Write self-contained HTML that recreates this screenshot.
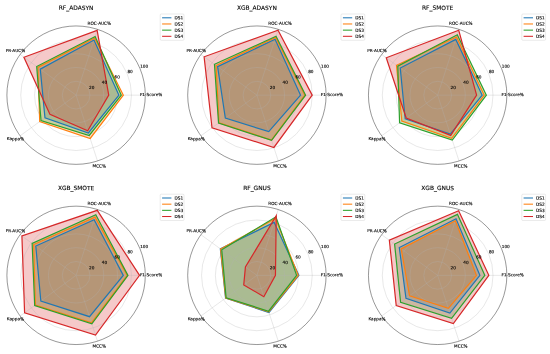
<!DOCTYPE html>
<html><head><meta charset="utf-8"><title>Radar charts</title>
<style>html,body{margin:0;padding:0;background:#fff}svg{display:block}text{font-family:"DejaVu Sans","Liberation Sans",sans-serif;text-rendering:geometricPrecision;stroke:#000;stroke-width:1.25px}</style></head>
<body>
<svg width="550" height="354" viewBox="0 0 550 354">
<rect width="550" height="354" fill="#fff"/>
<g>
<text transform="translate(76.10 9.85) rotate(0.4) scale(0.1)" font-size="59" text-anchor="middle" fill="#000" fill-opacity="1">RF_ADASYN</text>
<polygon points="118.93,95.15 94.00,40.06 40.27,69.12 44.97,117.77 88.40,132.99" fill="#1f77b4" fill-opacity="0.25" stroke="none"/>
<polygon points="123.36,95.15 94.66,38.02 37.92,67.41 39.71,121.59 90.17,138.46" fill="#ff7f0e" fill-opacity="0.25" stroke="none"/>
<polygon points="121.29,95.15 95.15,36.51 36.69,66.51 41.00,120.65 89.21,135.49" fill="#2ca02c" fill-opacity="0.25" stroke="none"/>
<polygon points="108.76,95.15 97.14,30.39 23.92,57.24 49.90,114.19 87.69,130.82" fill="#d62728" fill-opacity="0.25" stroke="none"/>
<circle cx="76.1" cy="95.15" r="13.84" fill="none" stroke="#b0b0b0" stroke-width="0.3"/>
<circle cx="76.1" cy="95.15" r="27.68" fill="none" stroke="#b0b0b0" stroke-width="0.3"/>
<circle cx="76.1" cy="95.15" r="41.52" fill="none" stroke="#b0b0b0" stroke-width="0.3"/>
<circle cx="76.1" cy="95.15" r="55.36" fill="none" stroke="#b0b0b0" stroke-width="0.3"/>
<line x1="76.1" y1="95.15" x2="145.30" y2="95.15" stroke="#b0b0b0" stroke-width="0.3"/>
<line x1="76.1" y1="95.15" x2="97.48" y2="29.34" stroke="#b0b0b0" stroke-width="0.3"/>
<line x1="76.1" y1="95.15" x2="20.12" y2="54.48" stroke="#b0b0b0" stroke-width="0.3"/>
<line x1="76.1" y1="95.15" x2="20.12" y2="135.82" stroke="#b0b0b0" stroke-width="0.3"/>
<line x1="76.1" y1="95.15" x2="97.48" y2="160.96" stroke="#b0b0b0" stroke-width="0.3"/>
<polygon points="118.93,95.15 94.00,40.06 40.27,69.12 44.97,117.77 88.40,132.99" fill="none" stroke="#1f77b4" stroke-width="1.2" stroke-linejoin="miter"/>
<polygon points="123.36,95.15 94.66,38.02 37.92,67.41 39.71,121.59 90.17,138.46" fill="none" stroke="#ff7f0e" stroke-width="1.2" stroke-linejoin="miter"/>
<polygon points="121.29,95.15 95.15,36.51 36.69,66.51 41.00,120.65 89.21,135.49" fill="none" stroke="#2ca02c" stroke-width="1.2" stroke-linejoin="miter"/>
<polygon points="108.76,95.15 97.14,30.39 23.92,57.24 49.90,114.19 87.69,130.82" fill="none" stroke="#d62728" stroke-width="1.2" stroke-linejoin="miter"/>
<circle cx="76.1" cy="95.15" r="69.2" fill="none" stroke="#000" stroke-opacity="0.9" stroke-width="0.45"/>
<text transform="translate(151.10 96.07) rotate(0.4) scale(0.1)" font-size="42" text-anchor="middle" fill="#000" fill-opacity="1">F1-Score%</text>
<text transform="translate(99.28 24.74) rotate(0.4) scale(0.1)" font-size="42" text-anchor="middle" fill="#000" fill-opacity="1">ROC-AUC%</text>
<text transform="translate(15.42 51.99) rotate(0.4) scale(0.1)" font-size="42" text-anchor="middle" fill="#000" fill-opacity="1">PR-AUC%</text>
<text transform="translate(15.42 140.16) rotate(0.4) scale(0.1)" font-size="42" text-anchor="middle" fill="#000" fill-opacity="1">Kappa%</text>
<text transform="translate(99.28 167.40) rotate(0.4) scale(0.1)" font-size="42" text-anchor="middle" fill="#000" fill-opacity="1">MCC%</text>
<text transform="translate(89.04 88.95) rotate(0.4) scale(0.1)" font-size="42" text-anchor="start" fill="#000" fill-opacity="1">20</text>
<text transform="translate(101.82 83.66) rotate(0.4) scale(0.1)" font-size="42" text-anchor="start" fill="#000" fill-opacity="1">40</text>
<text transform="translate(114.61 78.36) rotate(0.4) scale(0.1)" font-size="42" text-anchor="start" fill="#000" fill-opacity="1">60</text>
<text transform="translate(127.40 73.06) rotate(0.4) scale(0.1)" font-size="42" text-anchor="start" fill="#000" fill-opacity="1">80</text>
<text transform="translate(140.18 67.77) rotate(0.4) scale(0.1)" font-size="42" text-anchor="start" fill="#000" fill-opacity="1">100</text>
<rect x="160.2" y="14.0" width="23.8" height="26.3" rx="1" fill="#fff" fill-opacity="0.8" stroke="#ccc" stroke-opacity="0.8" stroke-width="0.5"/>
<line x1="162.1" y1="17.80" x2="171.4" y2="17.80" stroke="#1f77b4" stroke-width="1.05"/>
<text transform="translate(174.50 19.30) rotate(0.4) scale(0.1)" font-size="42" text-anchor="start" fill="#000" fill-opacity="1">DS1</text>
<line x1="162.1" y1="23.97" x2="171.4" y2="23.97" stroke="#ff7f0e" stroke-width="1.05"/>
<text transform="translate(174.50 25.47) rotate(0.4) scale(0.1)" font-size="42" text-anchor="start" fill="#000" fill-opacity="1">DS2</text>
<line x1="162.1" y1="30.14" x2="171.4" y2="30.14" stroke="#2ca02c" stroke-width="1.05"/>
<text transform="translate(174.50 31.64) rotate(0.4) scale(0.1)" font-size="42" text-anchor="start" fill="#000" fill-opacity="1">DS3</text>
<line x1="162.1" y1="36.31" x2="171.4" y2="36.31" stroke="#d62728" stroke-width="1.05"/>
<text transform="translate(174.50 37.81) rotate(0.4) scale(0.1)" font-size="42" text-anchor="start" fill="#000" fill-opacity="1">DS4</text>
</g>
<g>
<text transform="translate(256.90 9.85) rotate(0.4) scale(0.1)" font-size="59" text-anchor="middle" fill="#000" fill-opacity="1">XGB_ADASYN</text>
<polygon points="300.57,95.15 275.08,39.21 217.60,66.60 225.33,118.09 268.75,131.61" fill="#1f77b4" fill-opacity="0.25" stroke="none"/>
<polygon points="304.86,95.15 275.63,37.50 216.09,65.50 218.94,122.73 271.48,140.03" fill="#ff7f0e" fill-opacity="0.25" stroke="none"/>
<polygon points="305.62,95.15 276.04,36.25 214.46,64.32 218.55,123.01 271.59,140.36" fill="#2ca02c" fill-opacity="0.25" stroke="none"/>
<polygon points="312.19,95.15 278.03,30.13 204.11,56.79 212.00,127.77 273.90,147.47" fill="#d62728" fill-opacity="0.25" stroke="none"/>
<circle cx="256.9" cy="95.15" r="13.84" fill="none" stroke="#b0b0b0" stroke-width="0.3"/>
<circle cx="256.9" cy="95.15" r="27.68" fill="none" stroke="#b0b0b0" stroke-width="0.3"/>
<circle cx="256.9" cy="95.15" r="41.52" fill="none" stroke="#b0b0b0" stroke-width="0.3"/>
<circle cx="256.9" cy="95.15" r="55.36" fill="none" stroke="#b0b0b0" stroke-width="0.3"/>
<line x1="256.9" y1="95.15" x2="326.10" y2="95.15" stroke="#b0b0b0" stroke-width="0.3"/>
<line x1="256.9" y1="95.15" x2="278.28" y2="29.34" stroke="#b0b0b0" stroke-width="0.3"/>
<line x1="256.9" y1="95.15" x2="200.92" y2="54.48" stroke="#b0b0b0" stroke-width="0.3"/>
<line x1="256.9" y1="95.15" x2="200.92" y2="135.82" stroke="#b0b0b0" stroke-width="0.3"/>
<line x1="256.9" y1="95.15" x2="278.28" y2="160.96" stroke="#b0b0b0" stroke-width="0.3"/>
<polygon points="300.57,95.15 275.08,39.21 217.60,66.60 225.33,118.09 268.75,131.61" fill="none" stroke="#1f77b4" stroke-width="1.2" stroke-linejoin="miter"/>
<polygon points="304.86,95.15 275.63,37.50 216.09,65.50 218.94,122.73 271.48,140.03" fill="none" stroke="#ff7f0e" stroke-width="1.2" stroke-linejoin="miter"/>
<polygon points="305.62,95.15 276.04,36.25 214.46,64.32 218.55,123.01 271.59,140.36" fill="none" stroke="#2ca02c" stroke-width="1.2" stroke-linejoin="miter"/>
<polygon points="312.19,95.15 278.03,30.13 204.11,56.79 212.00,127.77 273.90,147.47" fill="none" stroke="#d62728" stroke-width="1.2" stroke-linejoin="miter"/>
<circle cx="256.9" cy="95.15" r="69.2" fill="none" stroke="#000" stroke-opacity="0.9" stroke-width="0.45"/>
<text transform="translate(331.90 96.07) rotate(0.4) scale(0.1)" font-size="42" text-anchor="middle" fill="#000" fill-opacity="1">F1-Score%</text>
<text transform="translate(280.08 24.74) rotate(0.4) scale(0.1)" font-size="42" text-anchor="middle" fill="#000" fill-opacity="1">ROC-AUC%</text>
<text transform="translate(196.22 51.99) rotate(0.4) scale(0.1)" font-size="42" text-anchor="middle" fill="#000" fill-opacity="1">PR-AUC%</text>
<text transform="translate(196.22 140.16) rotate(0.4) scale(0.1)" font-size="42" text-anchor="middle" fill="#000" fill-opacity="1">Kappa%</text>
<text transform="translate(280.08 167.40) rotate(0.4) scale(0.1)" font-size="42" text-anchor="middle" fill="#000" fill-opacity="1">MCC%</text>
<text transform="translate(269.84 88.95) rotate(0.4) scale(0.1)" font-size="42" text-anchor="start" fill="#000" fill-opacity="1">20</text>
<text transform="translate(282.62 83.66) rotate(0.4) scale(0.1)" font-size="42" text-anchor="start" fill="#000" fill-opacity="1">40</text>
<text transform="translate(295.41 78.36) rotate(0.4) scale(0.1)" font-size="42" text-anchor="start" fill="#000" fill-opacity="1">60</text>
<text transform="translate(308.20 73.06) rotate(0.4) scale(0.1)" font-size="42" text-anchor="start" fill="#000" fill-opacity="1">80</text>
<text transform="translate(320.98 67.77) rotate(0.4) scale(0.1)" font-size="42" text-anchor="start" fill="#000" fill-opacity="1">100</text>
<rect x="341.0" y="14.0" width="23.8" height="26.3" rx="1" fill="#fff" fill-opacity="0.8" stroke="#ccc" stroke-opacity="0.8" stroke-width="0.5"/>
<line x1="342.9" y1="17.80" x2="352.2" y2="17.80" stroke="#1f77b4" stroke-width="1.05"/>
<text transform="translate(355.30 19.30) rotate(0.4) scale(0.1)" font-size="42" text-anchor="start" fill="#000" fill-opacity="1">DS1</text>
<line x1="342.9" y1="23.97" x2="352.2" y2="23.97" stroke="#ff7f0e" stroke-width="1.05"/>
<text transform="translate(355.30 25.47) rotate(0.4) scale(0.1)" font-size="42" text-anchor="start" fill="#000" fill-opacity="1">DS2</text>
<line x1="342.9" y1="30.14" x2="352.2" y2="30.14" stroke="#2ca02c" stroke-width="1.05"/>
<text transform="translate(355.30 31.64) rotate(0.4) scale(0.1)" font-size="42" text-anchor="start" fill="#000" fill-opacity="1">DS3</text>
<line x1="342.9" y1="36.31" x2="352.2" y2="36.31" stroke="#d62728" stroke-width="1.05"/>
<text transform="translate(355.30 37.81) rotate(0.4) scale(0.1)" font-size="42" text-anchor="start" fill="#000" fill-opacity="1">DS4</text>
</g>
<g>
<text transform="translate(437.65 9.85) rotate(0.4) scale(0.1)" font-size="59" text-anchor="middle" fill="#000" fill-opacity="1">RF_SMOTE</text>
<polygon points="482.21,95.15 455.76,39.41 400.25,67.98 405.18,118.74 450.31,134.11" fill="#1f77b4" fill-opacity="0.25" stroke="none"/>
<polygon points="484.29,95.15 456.53,37.04 396.50,65.25 401.82,121.18 451.66,138.26" fill="#ff7f0e" fill-opacity="0.25" stroke="none"/>
<polygon points="486.37,95.15 457.28,34.73 397.79,66.19 399.58,122.81 452.28,140.17" fill="#2ca02c" fill-opacity="0.25" stroke="none"/>
<polygon points="476.61,95.15 458.73,30.26 386.26,57.81 406.19,118.01 450.74,135.43" fill="#d62728" fill-opacity="0.25" stroke="none"/>
<circle cx="437.65" cy="95.15" r="13.84" fill="none" stroke="#b0b0b0" stroke-width="0.3"/>
<circle cx="437.65" cy="95.15" r="27.68" fill="none" stroke="#b0b0b0" stroke-width="0.3"/>
<circle cx="437.65" cy="95.15" r="41.52" fill="none" stroke="#b0b0b0" stroke-width="0.3"/>
<circle cx="437.65" cy="95.15" r="55.36" fill="none" stroke="#b0b0b0" stroke-width="0.3"/>
<line x1="437.65" y1="95.15" x2="506.85" y2="95.15" stroke="#b0b0b0" stroke-width="0.3"/>
<line x1="437.65" y1="95.15" x2="459.03" y2="29.34" stroke="#b0b0b0" stroke-width="0.3"/>
<line x1="437.65" y1="95.15" x2="381.67" y2="54.48" stroke="#b0b0b0" stroke-width="0.3"/>
<line x1="437.65" y1="95.15" x2="381.67" y2="135.82" stroke="#b0b0b0" stroke-width="0.3"/>
<line x1="437.65" y1="95.15" x2="459.03" y2="160.96" stroke="#b0b0b0" stroke-width="0.3"/>
<polygon points="482.21,95.15 455.76,39.41 400.25,67.98 405.18,118.74 450.31,134.11" fill="none" stroke="#1f77b4" stroke-width="1.2" stroke-linejoin="miter"/>
<polygon points="484.29,95.15 456.53,37.04 396.50,65.25 401.82,121.18 451.66,138.26" fill="none" stroke="#ff7f0e" stroke-width="1.2" stroke-linejoin="miter"/>
<polygon points="486.37,95.15 457.28,34.73 397.79,66.19 399.58,122.81 452.28,140.17" fill="none" stroke="#2ca02c" stroke-width="1.2" stroke-linejoin="miter"/>
<polygon points="476.61,95.15 458.73,30.26 386.26,57.81 406.19,118.01 450.74,135.43" fill="none" stroke="#d62728" stroke-width="1.2" stroke-linejoin="miter"/>
<circle cx="437.65" cy="95.15" r="69.2" fill="none" stroke="#000" stroke-opacity="0.9" stroke-width="0.45"/>
<text transform="translate(512.65 96.07) rotate(0.4) scale(0.1)" font-size="42" text-anchor="middle" fill="#000" fill-opacity="1">F1-Score%</text>
<text transform="translate(460.83 24.74) rotate(0.4) scale(0.1)" font-size="42" text-anchor="middle" fill="#000" fill-opacity="1">ROC-AUC%</text>
<text transform="translate(376.97 51.99) rotate(0.4) scale(0.1)" font-size="42" text-anchor="middle" fill="#000" fill-opacity="1">PR-AUC%</text>
<text transform="translate(376.97 140.16) rotate(0.4) scale(0.1)" font-size="42" text-anchor="middle" fill="#000" fill-opacity="1">Kappa%</text>
<text transform="translate(460.83 167.40) rotate(0.4) scale(0.1)" font-size="42" text-anchor="middle" fill="#000" fill-opacity="1">MCC%</text>
<text transform="translate(450.59 88.95) rotate(0.4) scale(0.1)" font-size="42" text-anchor="start" fill="#000" fill-opacity="1">20</text>
<text transform="translate(463.37 83.66) rotate(0.4) scale(0.1)" font-size="42" text-anchor="start" fill="#000" fill-opacity="1">40</text>
<text transform="translate(476.16 78.36) rotate(0.4) scale(0.1)" font-size="42" text-anchor="start" fill="#000" fill-opacity="1">60</text>
<text transform="translate(488.95 73.06) rotate(0.4) scale(0.1)" font-size="42" text-anchor="start" fill="#000" fill-opacity="1">80</text>
<text transform="translate(501.73 67.77) rotate(0.4) scale(0.1)" font-size="42" text-anchor="start" fill="#000" fill-opacity="1">100</text>
<rect x="521.8" y="14.0" width="23.8" height="26.3" rx="1" fill="#fff" fill-opacity="0.8" stroke="#ccc" stroke-opacity="0.8" stroke-width="0.5"/>
<line x1="523.6" y1="17.80" x2="533.0" y2="17.80" stroke="#1f77b4" stroke-width="1.05"/>
<text transform="translate(536.05 19.30) rotate(0.4) scale(0.1)" font-size="42" text-anchor="start" fill="#000" fill-opacity="1">DS1</text>
<line x1="523.6" y1="23.97" x2="533.0" y2="23.97" stroke="#ff7f0e" stroke-width="1.05"/>
<text transform="translate(536.05 25.47) rotate(0.4) scale(0.1)" font-size="42" text-anchor="start" fill="#000" fill-opacity="1">DS2</text>
<line x1="523.6" y1="30.14" x2="533.0" y2="30.14" stroke="#2ca02c" stroke-width="1.05"/>
<text transform="translate(536.05 31.64) rotate(0.4) scale(0.1)" font-size="42" text-anchor="start" fill="#000" fill-opacity="1">DS3</text>
<line x1="523.6" y1="36.31" x2="533.0" y2="36.31" stroke="#d62728" stroke-width="1.05"/>
<text transform="translate(536.05 37.81) rotate(0.4) scale(0.1)" font-size="42" text-anchor="start" fill="#000" fill-opacity="1">DS4</text>
</g>
<g>
<text transform="translate(76.10 190.05) rotate(0.4) scale(0.1)" font-size="59" text-anchor="middle" fill="#000" fill-opacity="1">XGB_SMOTE</text>
<polygon points="123.29,275.35 94.15,219.80 35.79,246.06 40.83,300.98 89.53,316.68" fill="#1f77b4" fill-opacity="0.25" stroke="none"/>
<polygon points="127.24,275.35 95.02,217.11 33.66,244.52 35.34,304.96 91.54,322.87" fill="#ff7f0e" fill-opacity="0.25" stroke="none"/>
<polygon points="127.93,275.35 95.79,214.74 32.15,243.42 34.67,305.45 91.86,323.85" fill="#2ca02c" fill-opacity="0.25" stroke="none"/>
<polygon points="139.56,275.35 97.23,210.33 21.91,235.98 24.59,312.77 95.52,335.11" fill="#d62728" fill-opacity="0.25" stroke="none"/>
<circle cx="76.1" cy="275.35" r="13.84" fill="none" stroke="#b0b0b0" stroke-width="0.3"/>
<circle cx="76.1" cy="275.35" r="27.68" fill="none" stroke="#b0b0b0" stroke-width="0.3"/>
<circle cx="76.1" cy="275.35" r="41.52" fill="none" stroke="#b0b0b0" stroke-width="0.3"/>
<circle cx="76.1" cy="275.35" r="55.36" fill="none" stroke="#b0b0b0" stroke-width="0.3"/>
<line x1="76.1" y1="275.35" x2="145.30" y2="275.35" stroke="#b0b0b0" stroke-width="0.3"/>
<line x1="76.1" y1="275.35" x2="97.48" y2="209.54" stroke="#b0b0b0" stroke-width="0.3"/>
<line x1="76.1" y1="275.35" x2="20.12" y2="234.68" stroke="#b0b0b0" stroke-width="0.3"/>
<line x1="76.1" y1="275.35" x2="20.12" y2="316.02" stroke="#b0b0b0" stroke-width="0.3"/>
<line x1="76.1" y1="275.35" x2="97.48" y2="341.16" stroke="#b0b0b0" stroke-width="0.3"/>
<polygon points="123.29,275.35 94.15,219.80 35.79,246.06 40.83,300.98 89.53,316.68" fill="none" stroke="#1f77b4" stroke-width="1.2" stroke-linejoin="miter"/>
<polygon points="127.24,275.35 95.02,217.11 33.66,244.52 35.34,304.96 91.54,322.87" fill="none" stroke="#ff7f0e" stroke-width="1.2" stroke-linejoin="miter"/>
<polygon points="127.93,275.35 95.79,214.74 32.15,243.42 34.67,305.45 91.86,323.85" fill="none" stroke="#2ca02c" stroke-width="1.2" stroke-linejoin="miter"/>
<polygon points="139.56,275.35 97.23,210.33 21.91,235.98 24.59,312.77 95.52,335.11" fill="none" stroke="#d62728" stroke-width="1.2" stroke-linejoin="miter"/>
<circle cx="76.1" cy="275.35" r="69.2" fill="none" stroke="#000" stroke-opacity="0.9" stroke-width="0.45"/>
<text transform="translate(151.10 276.27) rotate(0.4) scale(0.1)" font-size="42" text-anchor="middle" fill="#000" fill-opacity="1">F1-Score%</text>
<text transform="translate(99.28 204.94) rotate(0.4) scale(0.1)" font-size="42" text-anchor="middle" fill="#000" fill-opacity="1">ROC-AUC%</text>
<text transform="translate(15.42 232.19) rotate(0.4) scale(0.1)" font-size="42" text-anchor="middle" fill="#000" fill-opacity="1">PR-AUC%</text>
<text transform="translate(15.42 320.36) rotate(0.4) scale(0.1)" font-size="42" text-anchor="middle" fill="#000" fill-opacity="1">Kappa%</text>
<text transform="translate(99.28 347.60) rotate(0.4) scale(0.1)" font-size="42" text-anchor="middle" fill="#000" fill-opacity="1">MCC%</text>
<text transform="translate(89.04 269.15) rotate(0.4) scale(0.1)" font-size="42" text-anchor="start" fill="#000" fill-opacity="1">20</text>
<text transform="translate(101.82 263.86) rotate(0.4) scale(0.1)" font-size="42" text-anchor="start" fill="#000" fill-opacity="1">40</text>
<text transform="translate(114.61 258.56) rotate(0.4) scale(0.1)" font-size="42" text-anchor="start" fill="#000" fill-opacity="1">60</text>
<text transform="translate(127.40 253.26) rotate(0.4) scale(0.1)" font-size="42" text-anchor="start" fill="#000" fill-opacity="1">80</text>
<text transform="translate(140.18 247.97) rotate(0.4) scale(0.1)" font-size="42" text-anchor="start" fill="#000" fill-opacity="1">100</text>
<rect x="160.2" y="194.2" width="23.8" height="26.3" rx="1" fill="#fff" fill-opacity="0.8" stroke="#ccc" stroke-opacity="0.8" stroke-width="0.5"/>
<line x1="162.1" y1="198.00" x2="171.4" y2="198.00" stroke="#1f77b4" stroke-width="1.05"/>
<text transform="translate(174.50 199.50) rotate(0.4) scale(0.1)" font-size="42" text-anchor="start" fill="#000" fill-opacity="1">DS1</text>
<line x1="162.1" y1="204.17" x2="171.4" y2="204.17" stroke="#ff7f0e" stroke-width="1.05"/>
<text transform="translate(174.50 205.67) rotate(0.4) scale(0.1)" font-size="42" text-anchor="start" fill="#000" fill-opacity="1">DS2</text>
<line x1="162.1" y1="210.34" x2="171.4" y2="210.34" stroke="#2ca02c" stroke-width="1.05"/>
<text transform="translate(174.50 211.84) rotate(0.4) scale(0.1)" font-size="42" text-anchor="start" fill="#000" fill-opacity="1">DS3</text>
<line x1="162.1" y1="216.51" x2="171.4" y2="216.51" stroke="#d62728" stroke-width="1.05"/>
<text transform="translate(174.50 218.01) rotate(0.4) scale(0.1)" font-size="42" text-anchor="start" fill="#000" fill-opacity="1">DS4</text>
</g>
<g>
<text transform="translate(256.90 190.05) rotate(0.4) scale(0.1)" font-size="59" text-anchor="middle" fill="#000" fill-opacity="1">RF_GNUS</text>
<polygon points="298.84,275.35 274.11,222.37 220.34,248.79 225.55,298.13 268.98,312.53" fill="#1f77b4" fill-opacity="0.25" stroke="none"/>
<polygon points="298.28,275.35 275.42,218.36 220.62,248.99 225.77,297.97 268.75,311.81" fill="#ff7f0e" fill-opacity="0.25" stroke="none"/>
<polygon points="296.62,275.35 275.93,216.78 221.74,249.81 226.11,297.72 268.55,311.22" fill="#2ca02c" fill-opacity="0.25" stroke="none"/>
<polygon points="275.45,275.35 276.25,215.79 245.42,267.01 243.74,284.91 263.83,296.67" fill="#d62728" fill-opacity="0.25" stroke="none"/>
<circle cx="256.9" cy="275.35" r="13.84" fill="none" stroke="#b0b0b0" stroke-width="0.3"/>
<circle cx="256.9" cy="275.35" r="27.68" fill="none" stroke="#b0b0b0" stroke-width="0.3"/>
<circle cx="256.9" cy="275.35" r="41.52" fill="none" stroke="#b0b0b0" stroke-width="0.3"/>
<circle cx="256.9" cy="275.35" r="55.36" fill="none" stroke="#b0b0b0" stroke-width="0.3"/>
<line x1="256.9" y1="275.35" x2="326.10" y2="275.35" stroke="#b0b0b0" stroke-width="0.3"/>
<line x1="256.9" y1="275.35" x2="278.28" y2="209.54" stroke="#b0b0b0" stroke-width="0.3"/>
<line x1="256.9" y1="275.35" x2="200.92" y2="234.68" stroke="#b0b0b0" stroke-width="0.3"/>
<line x1="256.9" y1="275.35" x2="200.92" y2="316.02" stroke="#b0b0b0" stroke-width="0.3"/>
<line x1="256.9" y1="275.35" x2="278.28" y2="341.16" stroke="#b0b0b0" stroke-width="0.3"/>
<polygon points="298.84,275.35 274.11,222.37 220.34,248.79 225.55,298.13 268.98,312.53" fill="none" stroke="#1f77b4" stroke-width="1.2" stroke-linejoin="miter"/>
<polygon points="298.28,275.35 275.42,218.36 220.62,248.99 225.77,297.97 268.75,311.81" fill="none" stroke="#ff7f0e" stroke-width="1.2" stroke-linejoin="miter"/>
<polygon points="296.62,275.35 275.93,216.78 221.74,249.81 226.11,297.72 268.55,311.22" fill="none" stroke="#2ca02c" stroke-width="1.2" stroke-linejoin="miter"/>
<polygon points="275.45,275.35 276.25,215.79 245.42,267.01 243.74,284.91 263.83,296.67" fill="none" stroke="#d62728" stroke-width="1.2" stroke-linejoin="miter"/>
<circle cx="256.9" cy="275.35" r="69.2" fill="none" stroke="#000" stroke-opacity="0.9" stroke-width="0.45"/>
<text transform="translate(331.90 276.27) rotate(0.4) scale(0.1)" font-size="42" text-anchor="middle" fill="#000" fill-opacity="1">F1-Score%</text>
<text transform="translate(280.08 204.94) rotate(0.4) scale(0.1)" font-size="42" text-anchor="middle" fill="#000" fill-opacity="1">ROC-AUC%</text>
<text transform="translate(196.22 232.19) rotate(0.4) scale(0.1)" font-size="42" text-anchor="middle" fill="#000" fill-opacity="1">PR-AUC%</text>
<text transform="translate(196.22 320.36) rotate(0.4) scale(0.1)" font-size="42" text-anchor="middle" fill="#000" fill-opacity="1">Kappa%</text>
<text transform="translate(280.08 347.60) rotate(0.4) scale(0.1)" font-size="42" text-anchor="middle" fill="#000" fill-opacity="1">MCC%</text>
<text transform="translate(269.84 269.15) rotate(0.4) scale(0.1)" font-size="42" text-anchor="start" fill="#000" fill-opacity="1">20</text>
<text transform="translate(282.62 263.86) rotate(0.4) scale(0.1)" font-size="42" text-anchor="start" fill="#000" fill-opacity="1">40</text>
<text transform="translate(295.41 258.56) rotate(0.4) scale(0.1)" font-size="42" text-anchor="start" fill="#000" fill-opacity="1">60</text>
<text transform="translate(308.20 253.26) rotate(0.4) scale(0.1)" font-size="42" text-anchor="start" fill="#000" fill-opacity="1">80</text>
<text transform="translate(320.98 247.97) rotate(0.4) scale(0.1)" font-size="42" text-anchor="start" fill="#000" fill-opacity="1">100</text>
<rect x="341.0" y="194.2" width="23.8" height="26.3" rx="1" fill="#fff" fill-opacity="0.8" stroke="#ccc" stroke-opacity="0.8" stroke-width="0.5"/>
<line x1="342.9" y1="198.00" x2="352.2" y2="198.00" stroke="#1f77b4" stroke-width="1.05"/>
<text transform="translate(355.30 199.50) rotate(0.4) scale(0.1)" font-size="42" text-anchor="start" fill="#000" fill-opacity="1">DS1</text>
<line x1="342.9" y1="204.17" x2="352.2" y2="204.17" stroke="#ff7f0e" stroke-width="1.05"/>
<text transform="translate(355.30 205.67) rotate(0.4) scale(0.1)" font-size="42" text-anchor="start" fill="#000" fill-opacity="1">DS2</text>
<line x1="342.9" y1="210.34" x2="352.2" y2="210.34" stroke="#2ca02c" stroke-width="1.05"/>
<text transform="translate(355.30 211.84) rotate(0.4) scale(0.1)" font-size="42" text-anchor="start" fill="#000" fill-opacity="1">DS3</text>
<line x1="342.9" y1="216.51" x2="352.2" y2="216.51" stroke="#d62728" stroke-width="1.05"/>
<text transform="translate(355.30 218.01) rotate(0.4) scale(0.1)" font-size="42" text-anchor="start" fill="#000" fill-opacity="1">DS4</text>
</g>
<g>
<text transform="translate(437.65 190.05) rotate(0.4) scale(0.1)" font-size="59" text-anchor="middle" fill="#000" fill-opacity="1">XGB_GNUS</text>
<polygon points="479.86,275.35 456.04,218.75 399.30,247.49 405.96,298.37 449.88,313.00" fill="#1f77b4" fill-opacity="0.25" stroke="none"/>
<polygon points="476.47,275.35 455.40,220.73 401.20,248.87 409.55,295.77 448.36,308.32" fill="#ff7f0e" fill-opacity="0.25" stroke="none"/>
<polygon points="484.78,275.35 457.47,214.34 394.60,244.07 400.59,302.28 451.59,318.26" fill="#2ca02c" fill-opacity="0.25" stroke="none"/>
<polygon points="488.79,275.35 458.63,210.79 389.34,240.25 396.22,305.45 453.35,323.66" fill="#d62728" fill-opacity="0.25" stroke="none"/>
<circle cx="437.65" cy="275.35" r="13.84" fill="none" stroke="#b0b0b0" stroke-width="0.3"/>
<circle cx="437.65" cy="275.35" r="27.68" fill="none" stroke="#b0b0b0" stroke-width="0.3"/>
<circle cx="437.65" cy="275.35" r="41.52" fill="none" stroke="#b0b0b0" stroke-width="0.3"/>
<circle cx="437.65" cy="275.35" r="55.36" fill="none" stroke="#b0b0b0" stroke-width="0.3"/>
<line x1="437.65" y1="275.35" x2="506.85" y2="275.35" stroke="#b0b0b0" stroke-width="0.3"/>
<line x1="437.65" y1="275.35" x2="459.03" y2="209.54" stroke="#b0b0b0" stroke-width="0.3"/>
<line x1="437.65" y1="275.35" x2="381.67" y2="234.68" stroke="#b0b0b0" stroke-width="0.3"/>
<line x1="437.65" y1="275.35" x2="381.67" y2="316.02" stroke="#b0b0b0" stroke-width="0.3"/>
<line x1="437.65" y1="275.35" x2="459.03" y2="341.16" stroke="#b0b0b0" stroke-width="0.3"/>
<polygon points="479.86,275.35 456.04,218.75 399.30,247.49 405.96,298.37 449.88,313.00" fill="none" stroke="#1f77b4" stroke-width="1.2" stroke-linejoin="miter"/>
<polygon points="476.47,275.35 455.40,220.73 401.20,248.87 409.55,295.77 448.36,308.32" fill="none" stroke="#ff7f0e" stroke-width="1.2" stroke-linejoin="miter"/>
<polygon points="484.78,275.35 457.47,214.34 394.60,244.07 400.59,302.28 451.59,318.26" fill="none" stroke="#2ca02c" stroke-width="1.2" stroke-linejoin="miter"/>
<polygon points="488.79,275.35 458.63,210.79 389.34,240.25 396.22,305.45 453.35,323.66" fill="none" stroke="#d62728" stroke-width="1.2" stroke-linejoin="miter"/>
<circle cx="437.65" cy="275.35" r="69.2" fill="none" stroke="#000" stroke-opacity="0.9" stroke-width="0.45"/>
<text transform="translate(512.65 276.27) rotate(0.4) scale(0.1)" font-size="42" text-anchor="middle" fill="#000" fill-opacity="1">F1-Score%</text>
<text transform="translate(460.83 204.94) rotate(0.4) scale(0.1)" font-size="42" text-anchor="middle" fill="#000" fill-opacity="1">ROC-AUC%</text>
<text transform="translate(376.97 232.19) rotate(0.4) scale(0.1)" font-size="42" text-anchor="middle" fill="#000" fill-opacity="1">PR-AUC%</text>
<text transform="translate(376.97 320.36) rotate(0.4) scale(0.1)" font-size="42" text-anchor="middle" fill="#000" fill-opacity="1">Kappa%</text>
<text transform="translate(460.83 347.60) rotate(0.4) scale(0.1)" font-size="42" text-anchor="middle" fill="#000" fill-opacity="1">MCC%</text>
<text transform="translate(450.59 269.15) rotate(0.4) scale(0.1)" font-size="42" text-anchor="start" fill="#000" fill-opacity="1">20</text>
<text transform="translate(463.37 263.86) rotate(0.4) scale(0.1)" font-size="42" text-anchor="start" fill="#000" fill-opacity="1">40</text>
<text transform="translate(476.16 258.56) rotate(0.4) scale(0.1)" font-size="42" text-anchor="start" fill="#000" fill-opacity="1">60</text>
<text transform="translate(488.95 253.26) rotate(0.4) scale(0.1)" font-size="42" text-anchor="start" fill="#000" fill-opacity="1">80</text>
<text transform="translate(501.73 247.97) rotate(0.4) scale(0.1)" font-size="42" text-anchor="start" fill="#000" fill-opacity="1">100</text>
<rect x="521.8" y="194.2" width="23.8" height="26.3" rx="1" fill="#fff" fill-opacity="0.8" stroke="#ccc" stroke-opacity="0.8" stroke-width="0.5"/>
<line x1="523.6" y1="198.00" x2="533.0" y2="198.00" stroke="#1f77b4" stroke-width="1.05"/>
<text transform="translate(536.05 199.50) rotate(0.4) scale(0.1)" font-size="42" text-anchor="start" fill="#000" fill-opacity="1">DS1</text>
<line x1="523.6" y1="204.17" x2="533.0" y2="204.17" stroke="#ff7f0e" stroke-width="1.05"/>
<text transform="translate(536.05 205.67) rotate(0.4) scale(0.1)" font-size="42" text-anchor="start" fill="#000" fill-opacity="1">DS2</text>
<line x1="523.6" y1="210.34" x2="533.0" y2="210.34" stroke="#2ca02c" stroke-width="1.05"/>
<text transform="translate(536.05 211.84) rotate(0.4) scale(0.1)" font-size="42" text-anchor="start" fill="#000" fill-opacity="1">DS3</text>
<line x1="523.6" y1="216.51" x2="533.0" y2="216.51" stroke="#d62728" stroke-width="1.05"/>
<text transform="translate(536.05 218.01) rotate(0.4) scale(0.1)" font-size="42" text-anchor="start" fill="#000" fill-opacity="1">DS4</text>
</g>
</svg>
</body></html>
